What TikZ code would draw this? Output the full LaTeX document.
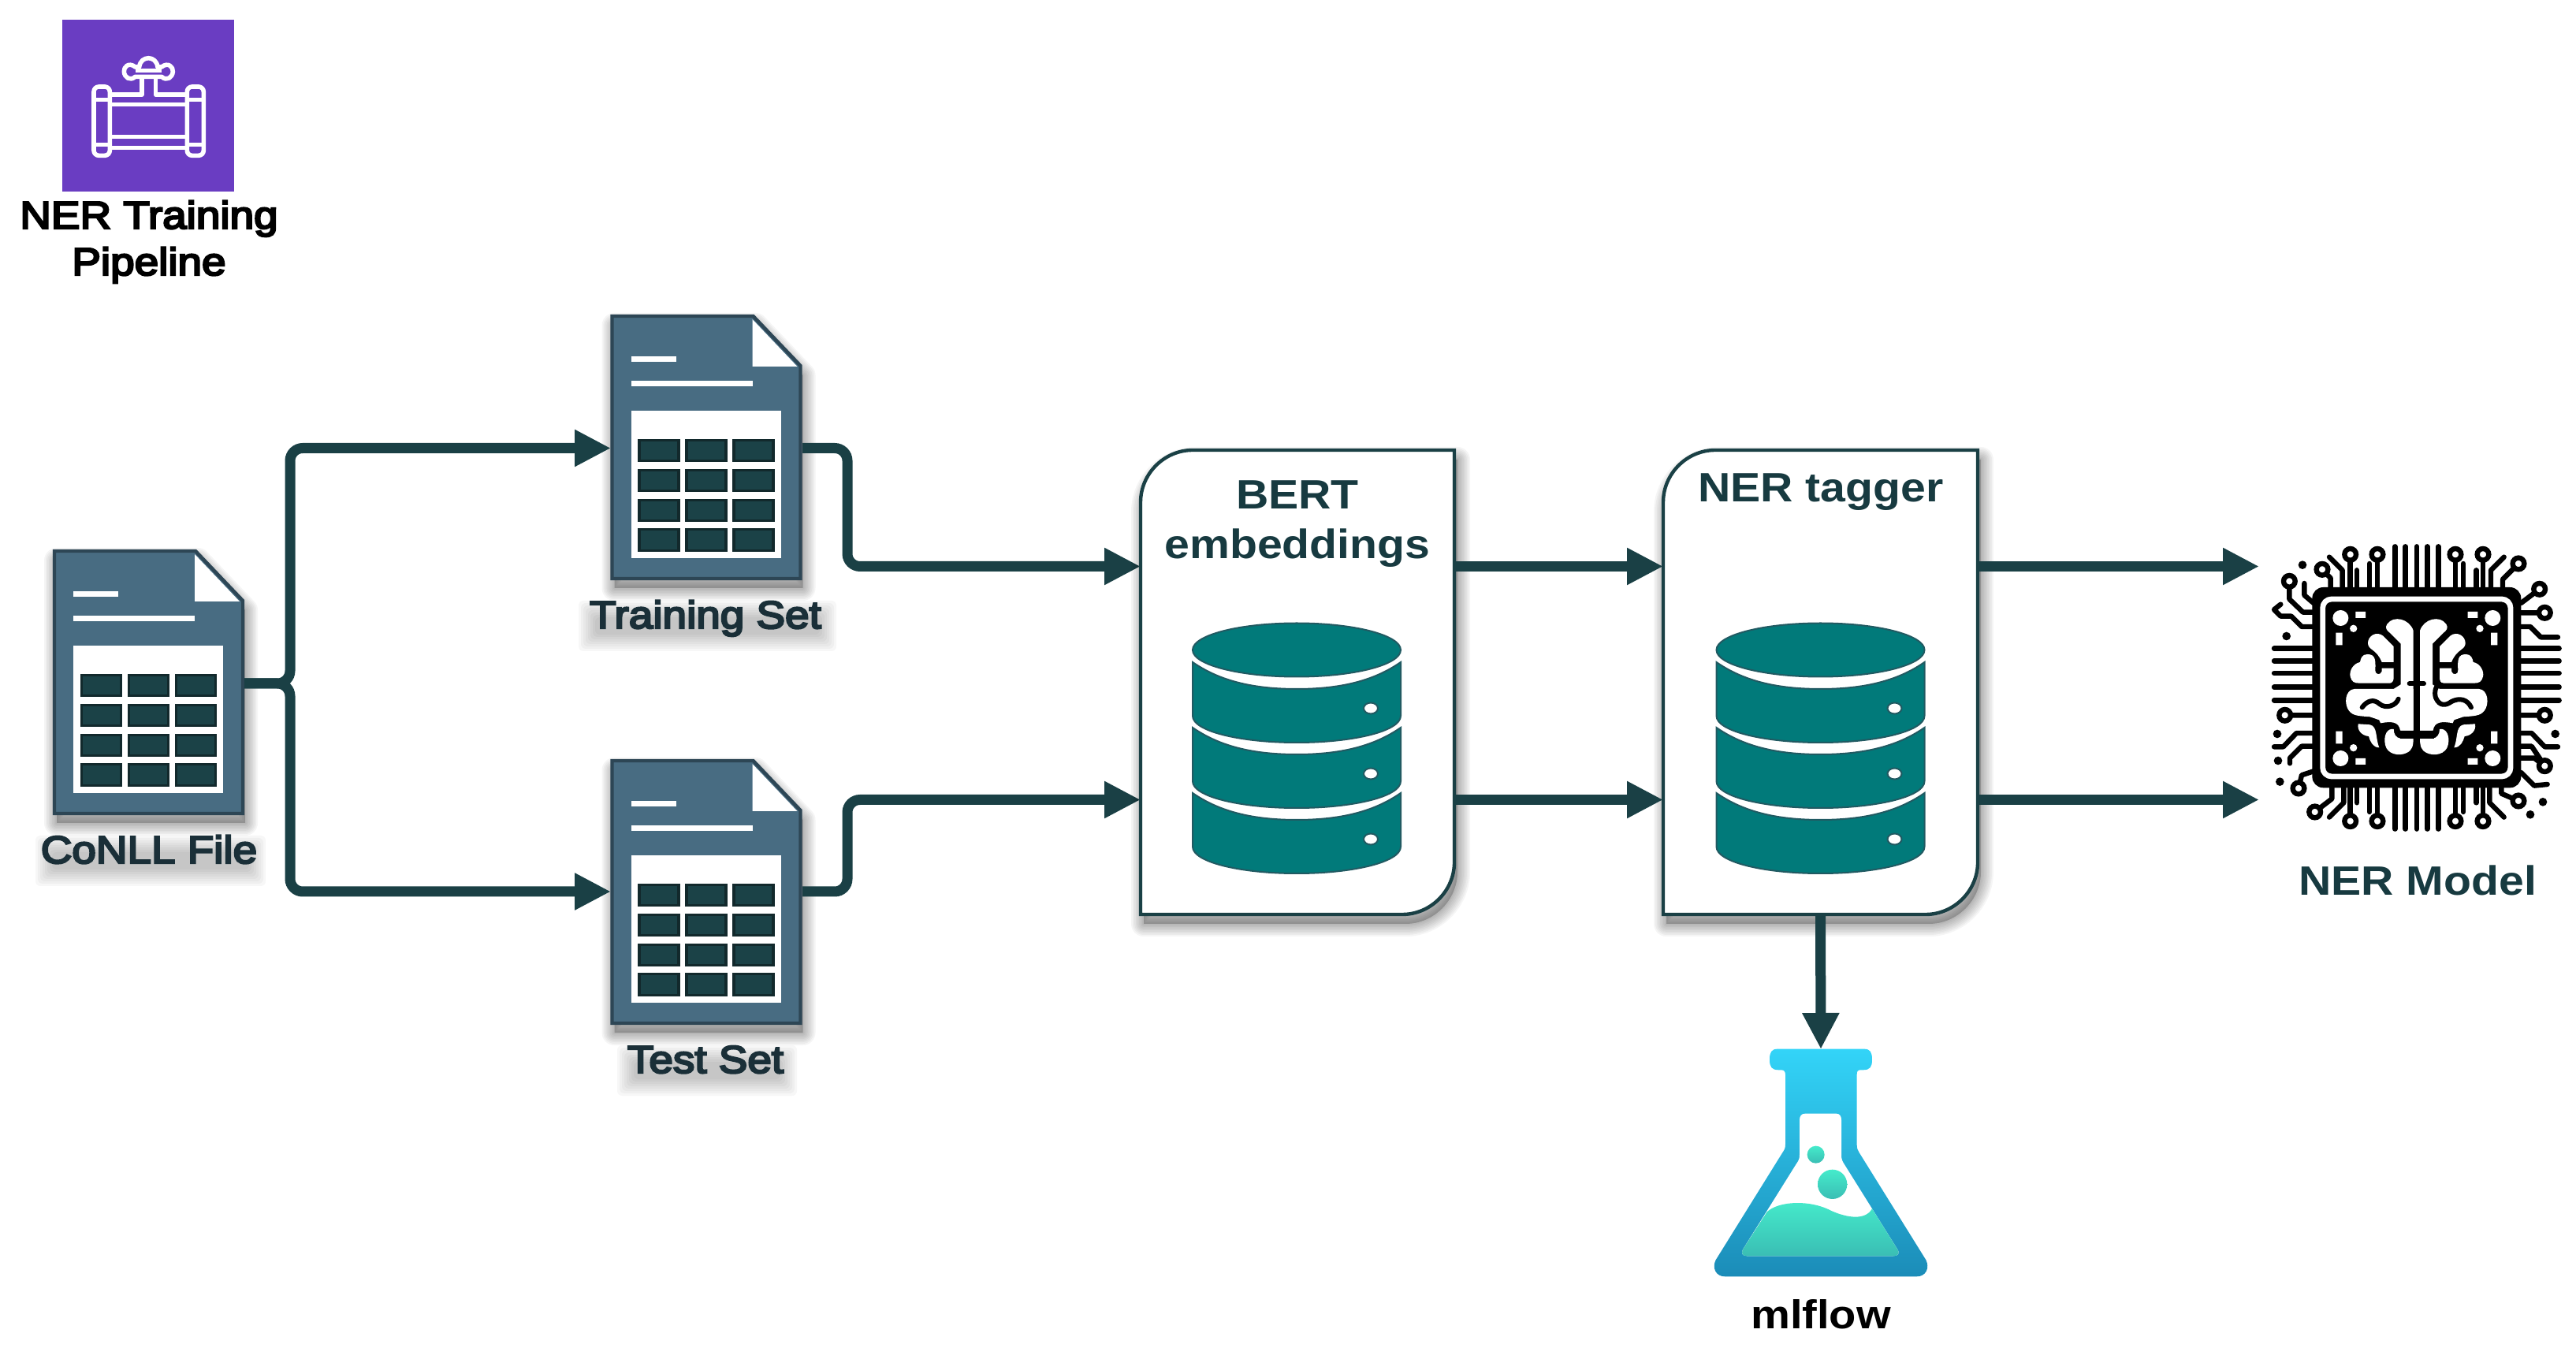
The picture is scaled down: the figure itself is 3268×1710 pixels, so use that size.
\documentclass[tikz,border=0pt]{standalone}
\usepackage{fontspec}
\setmainfont{Liberation Sans}[FakeStretch=1.1]
\newfontfamily\labfont{Liberation Sans}[FakeStretch=1.12,FakeBold=5]
\usetikzlibrary{arrows.meta,calc}
\definecolor{conn}{HTML}{1A4045}
\definecolor{docfill}{HTML}{486C82}
\definecolor{docline}{HTML}{2D4655}
\definecolor{cellfill}{HTML}{1B4247}
\definecolor{cellline}{HTML}{12292C}
\definecolor{dbfill}{HTML}{017A7A}
\definecolor{dbline}{HTML}{215A62}
\definecolor{purple1}{HTML}{6A3DC2}
\definecolor{labdark}{HTML}{1A2F38}
\definecolor{labteal}{HTML}{173A40}
\tikzset{
  conn/.style={draw=conn,line width=3.25pt,rounded corners=4pt},
  tip/.style={-{Triangle[length=11.5pt,width=11pt]}},
  anchorbox/.style={draw=none,inner sep=0pt,outer sep=0pt},
  lab/.style={anchor=base,font=\labfont\fontsize{12.25}{14}\selectfont,inner sep=0pt},
  blab/.style={anchor=base,font=\bfseries\fontsize{13}{15}\selectfont,inner sep=0pt,text=labteal},
  pin/.style={line width=1.6pt,line cap=round,line join=round,draw=black},
  term/.style={line width=1.6pt,draw=black,fill=white},
  wh/.style={fill=white,draw=none},
  brainline/.style={draw=black,line width=1.5pt,line cap=round,line join=round},
  valve/.style={draw=white,line width=1.4pt,line join=round},
}
\newcommand{\softshadow}[1]{%
  \path[fill=black,opacity=.22] #1;
  \foreach \w in {8,7,6,5,4,3,2,1}{\path[draw=black,opacity=.04,line width=\w pt,line join=round] #1;}}
\newcommand{\docicon}[2]{%
  \begin{scope}[shift={(#1,#2)}]
    \begin{scope}[shift={(3,12)}]\softshadow{(2,2)--(181,2)--(241,65)--(241,335)--(2,335)--cycle}\end{scope}
    \path[fill=docfill,draw=docline,line width=1.1pt,line join=miter] (2,2)--(181,2)--(241,65)--(241,335)--(2,335)--cycle;
    \fill[white] (180,6)--(180,66)--(237,66)--cycle;
    \fill[white] (26,53) rectangle (83,60);
    \fill[white] (26,84) rectangle (180,91);
    \fill[white] (26,122) rectangle (216,309);
    \foreach \cx/\cw in {35/53,95/53,155/53}{
      \foreach \cy/\ch in {158/29,196/29,234/29,271/30}{
        \path[fill=cellfill,draw=cellline,line width=.8pt] (\cx+1.5,\cy+1.5) rectangle (\cx+\cw-1.5,\cy+\ch-1.5);
      }}
  \end{scope}}
\newcommand{\dblayer}[2]{% cx, t
  \path[fill=dbfill,draw=dbline,line width=.5pt] (#1-132,#2) .. controls (#1-100,#2+22) and (#1-60,#2+34) .. (#1,#2+34)
    .. controls (#1+60,#2+34) and (#1+100,#2+22) .. (#1+132,#2) -- (#1+132,#2+68)
    .. controls (#1+132,#2+88) and (#1+70,#2+102) .. (#1,#2+102)
    .. controls (#1-70,#2+102) and (#1-132,#2+88) .. (#1-132,#2+68) -- cycle;
  \path[fill=white,draw=dbline,line width=.5pt] (#1+94,#2+58.5) ellipse [x radius=9,y radius=7];}
\newcommand{\dbicon}[1]{%
  \path[fill=dbfill,draw=dbline,line width=.5pt] (#1,824.5) ellipse [x radius=132,y radius=34];
  \dblayer{#1}{840}\dblayer{#1}{923}\dblayer{#1}{1006}}
\newcommand{\boxshape}[2]{% x0 x1
  \begin{scope}[shift={(4,12)}]\softshadow{(#1+66,571) -- (#2,571) -- (#2,1094) .. controls (#2,1130) and (#2-30,1160) .. (#2-66,1160) -- (#1,1160) -- (#1,637) .. controls (#1,601) and (#1+30,571) .. (#1+66,571) -- cycle}\end{scope}
  \path[fill=white,draw=conn,line width=1.1pt] (#1+66,571)--(#2,571)--(#2,1094) .. controls (#2,1130) and (#2-30,1160) .. (#2-66,1160)--(#1,1160)--(#1,637) .. controls (#1,601) and (#1+30,571) .. (#1+66,571)--cycle;}
\newcommand{\textstrip}[3]{% x0 x1 baseline : soft shadow below a label
  \foreach \e in {0,3,...,21}{\path[fill=black,opacity=.03,rounded corners=1.5pt] (#1-\e,#3-14-\e) rectangle (#2+\e,#3+8+\e);}}
\begin{document}
\begin{tikzpicture}[x=.25pt,y=-.25pt]
\useasboundingbox (0,0) rectangle (3268,1710);
% anchor nodes
\node[anchorbox,minimum width=60.75pt,minimum height=84.25pt] (conll) at (188.5,867) {};
\node[anchorbox,minimum width=60.75pt,minimum height=84.25pt] (train) at (896.5,568.5) {};
\node[anchorbox,minimum width=60.75pt,minimum height=84.25pt] (test)  at (896.5,1131) {};
\node[anchorbox,minimum width=99.5pt,minimum height=147.25pt] (bert) at (1646,865.5) {};
\node[anchorbox,minimum width=99.75pt,minimum height=147.25pt] (tagger) at (2309.5,865.5) {};
\node[anchorbox,minimum width=79pt,minimum height=87pt] (model) at (3066,872) {};
\node[anchorbox,minimum width=50pt,minimum height=72pt] (flask) at (2310,1475) {};
\node[anchorbox,minimum width=54.5pt,minimum height=54.5pt] (pipeline) at (188,134) {};
% documents
\docicon{67}{697}
\docicon{774.5}{399}
\docicon{774.5}{963}
% connectors
\draw[conn,tip] (conll.east) -- (368,867) -- (368,568.5) -- (train.west);
\draw[conn,tip] (conll.east) -- (368,867) -- (368,1131) -- (test.west);
\draw[conn,tip] (train.east) -- (1075,568.5) -- (1075,718.5) -- ([yshift=36.75pt]bert.west);
\draw[conn,tip] (test.east) -- (1075,1131) -- (1075,1014.5) -- ([yshift=-37.25pt]bert.west);
% boxes
\boxshape{1447}{1845}
\boxshape{2110}{2509}
\draw[conn,tip] ([yshift=36.75pt]bert.east) -- ([yshift=36.75pt]tagger.west);
\draw[conn,tip] ([yshift=-37.25pt]bert.east) -- ([yshift=-37.25pt]tagger.west);
\draw[conn,tip] ([yshift=36.75pt]tagger.east) -- (2866,718.5);
\draw[conn,tip] ([yshift=-37.25pt]tagger.east) -- (2866,1014.5);
\draw[conn,tip] (tagger.south) -- (flask.north);
\dbicon{1645}
\dbicon{2309.5}
% pipeline icon
\fill[purple1] (79,25) rectangle (297,243);
\begin{scope}[x=.25pt/3,y=-.25pt/3]
  \draw[valve,rounded corners=1.6pt] (357,330) rectangle (418,592);
  \draw[valve,rounded corners=1.6pt] (712,330) rectangle (775,592);
  \draw[valve] (357,380)--(418,380) (712,380)--(775,380) (357,550)--(418,550) (712,550)--(775,550);
  \draw[valve] (418,360)--(540,360)--(540,300) (592,300)--(592,360)--(712,360);
  \draw[valve] (418,397)--(712,397) (418,520)--(712,520) (418,562)--(712,562);
  \draw[valve] (515,255) .. controls (490,235) and (470,255) .. (472,273) .. controls (474,295) and (495,310) .. (515,292) -- (615,292) .. controls (635,310) and (656,295) .. (658,273) .. controls (660,255) and (640,235) .. (615,255) -- (600,255) .. controls (595,210) and (535,210) .. (530,255) -- cycle;
  \draw[valve] (515,268) -- (615,268);
  \path[fill=purple1] (490,273) circle [radius=5] (640,273) circle [radius=5];
\end{scope}
% chip icon
\begin{scope}[shift={(2840,660)},x=.25pt/3,y=-.25pt/3]
  \foreach \x in {595,635,678,718,760}{\draw[pin] (\x,100)--(\x,260) (\x,1018)--(\x,1175);}
  \foreach \y in {488,535,582,635,685}{\draw[pin] (135,\y)--(280,\y) (1075,\y)--(1220,\y);}
  \foreach \x in {425,528,825,930}{\draw[pin] (\x,130)--(\x,260) (\x,1018)--(\x,1145);}
  \draw[pin] (450,190)--(450,260) (498,165)--(498,260) (855,165)--(855,260) (905,190)--(905,260);
  \draw[pin] (450,1018)--(450,1075) (498,1018)--(498,1110) (855,1018)--(855,1110) (905,1018)--(905,1075);
  \draw[pin] (345,140)--(395,190)--(395,260) (1010,140)--(960,190)--(960,260);
  \draw[pin] (1065,165)--(1005,225)--(1005,260) (318,187)--(350,220)--(350,260);
  \draw[pin] (193,232)--(193,300)--(245,350)--(285,350) (250,240)--(250,285)--(285,315);
  \draw[pin] (160,320)--(135,340)--(160,365)--(200,365)--(240,405)--(285,405);
  \draw[pin] (176,742)--(285,742) (135,862)--(170,862)--(220,810)--(285,810);
  \draw[pin] (195,925)--(195,905)--(240,860)--(285,860) (228,1020)--(240,970)--(285,955);
  \draw[pin] (290,1110)--(355,1060)--(355,1018) (345,1130)--(400,1075)--(400,1018);
  \draw[pin] (1010,1130)--(955,1075)--(955,1018) (1065,1068)--(1000,1040)--(1000,1018);
  \draw[pin] (1145,262)--(1075,315) (1165,352)--(1075,352) (1215,445)--(1150,445)--(1110,405)--(1075,405);
  \draw[pin] (1165,742)--(1075,742) (1215,862)--(1165,862)--(1115,810)--(1075,810);
  \draw[pin] (1165,935)--(1115,860)--(1075,860) (1165,935)--(1125,905)--(1075,905);
  \draw[pin] (1175,1005)--(1125,1010)--(1100,985)--(1075,960);
  \foreach \x/\y in {425/130,528/130,825/130,930/130,318/187,1065/165,193/232,1145/262,1165/352,176/742,1165/742,1165/935,228/1020,290/1110,425/1145,528/1145,825/1145,930/1145,1065/1068}{
    \path[term] (\x,\y) circle [radius=22];}
  \foreach \x/\y in {243/170,182/441,147/813,150/915,157/995,1205/813,1110/1120,1158/1072}{
    \fill (\x,\y) circle [radius=16];}
  \fill[rounded corners=3.5pt] (280,255) rectangle (1075,1018);
  \draw[white,line width=1.7pt,rounded corners=2.8pt] (320,300) rectangle (1035,975);
  % corner marks and brain, mirrored
  \foreach \sx/\sy in {1/1,-1/1,1/-1,-1/-1}{
  \begin{scope}[shift={(677.5,639)},xscale=\sx,yscale=\sy,shift={(-677.5,-639)}]
    \fill[white] (388,372) circle [radius=30] (437,412) circle [radius=14];
    \fill[white] (445,348) rectangle (483,372) (370,428) rectangle (395,475);
  \end{scope}}
  \foreach \sx in {1,-1}{
  \begin{scope}[shift={(677.5,0)},xscale=\sx,shift={(-677.5,0)}]
    \fill[white] (665,420) .. controls (650,375) and (590,360) .. (565,395) .. controls (555,410) and (565,420) .. (575,428) -- (617,470) -- (617,625) -- (590,642) -- (617,800) -- (665,800) -- cycle;
    \fill[white] (590,480) -- (550,440) .. controls (525,420) and (490,440) .. (492,470) .. controls (495,495) and (525,490) .. (545,540) -- (590,540) -- cycle;
    \fill[white] (590,563) -- (545,563) -- (545,575) .. controls (540,590) and (520,590) .. (520,570) .. controls (522,530) and (520,510) .. (490,510) .. controls (470,510) and (465,525) .. (462,540) .. controls (435,545) and (420,575) .. (425,595) .. controls (430,615) and (440,620) .. (460,620) -- (575,620) .. controls (585,620) and (590,610) .. (590,600) -- cycle;
    \fill[white] (665,642) -- (440,642) .. controls (405,645) and (400,700) .. (420,725) .. controls (435,745) and (460,745) .. (500,748) -- (535,760) -- (540,772) .. controls (580,765) and (610,765) .. (615,800) -- (665,800) -- cycle;
    \fill[white] (455,775) -- (500,778) .. controls (530,785) and (520,830) .. (535,865) .. controls (510,865) and (500,840) .. (495,822) .. controls (470,820) and (450,800) .. (455,775) -- cycle;
    \fill[white] (590,795) .. controls (565,790) and (550,820) .. (558,855) .. controls (565,890) and (610,900) .. (640,885) .. controls (660,875) and (665,860) .. (665,830) -- (615,830) .. controls (600,828) and (590,815) .. (590,795) -- cycle;
  \end{scope}}
  \draw[brainline] (470,712) .. controls (490,685) and (515,680) .. (535,698) .. controls (560,720) and (600,705) .. (608,680);
  \draw[brainline] (468,762) -- (505,762);
  \draw[brainline] (650,622) -- (705,622);
  \draw[brainline] (775,628) .. controls (745,620) and (745,660) .. (750,675) .. controls (765,710) and (790,705) .. (810,690) .. controls (840,675) and (870,680) .. (885,712);
  \draw[brainline] (850,762) -- (890,762);
  \draw[brainline] (750,490) -- (750,582);
  \draw[brainline] (677.5,385)--(677.5,880);
  \fill[black] (615,800) rectangle (745,830);
\end{scope}
% flask
\begin{scope}[shift={(2130,1300)},x=.25pt/3,y=-.25pt/3]
  \shade[top color={rgb,255:red,51;green,212;blue,248},bottom color={rgb,255:red,27;green,140;blue,184}]
    (375,92) -- (705,92) .. controls (728,92) and (735,105) .. (735,132) .. controls (735,160) and (728,172) .. (700,172) -- (690,172) .. controls (680,172) and (677,178) .. (677,190) -- (677,455) .. controls (677,470) and (680,478) .. (685,485) -- (940,895) .. controls (955,925) and (940,958) .. (905,958) -- (175,958) .. controls (140,958) and (125,925) .. (140,895) -- (395,485) .. controls (402,475) and (405,468) .. (405,455) -- (405,190) .. controls (405,178) and (400,172) .. (390,172) -- (380,172) .. controls (352,172) and (345,160) .. (345,132) .. controls (345,105) and (352,92) .. (375,92) -- cycle;
  \fill[white] (480,338) -- (598,338) .. controls (612,338) and (618,348) .. (618,362) -- (618,495) .. controls (618,512) and (622,520) .. (630,532) -- (830,852) .. controls (842,870) and (835,880) .. (815,880) -- (260,880) .. controls (240,880) and (235,870) .. (245,852) -- (445,532) .. controls (455,518) and (459,510) .. (459,495) -- (459,362) .. controls (459,348) and (466,338) .. (480,338) -- cycle;
  \shade[top color={rgb,255:red,69;green,235;blue,203},bottom color={rgb,255:red,58;green,190;blue,180}]
    (335,712) .. controls (380,670) and (500,665) .. (580,708) .. controls (640,735) and (710,745) .. (735,700) -- (830,852) .. controls (842,870) and (835,880) .. (815,880) -- (260,880) .. controls (240,880) and (235,870) .. (245,852) -- cycle;
  \shade[top color={rgb,255:red,69;green,235;blue,203},bottom color={rgb,255:red,58;green,190;blue,180}] (521,494) circle [radius=33];
  \shade[top color={rgb,255:red,69;green,235;blue,203},bottom color={rgb,255:red,58;green,190;blue,180}] (584,607) circle [radius=56];
\end{scope}
% label shadows
\textstrip{66}{316}{1095}
\textstrip{755}{1040}{797}
\textstrip{804}{990}{1361}
% labels
\node[lab,text=black] (l1) at (189,290) {NER Training};
\node[lab,text=black] (l2) at (189,349) {Pipeline};
\node[lab,text=labdark] (l3) at (189,1095) {CoNLL File};
\node[lab,text=labdark] (l4) at (895,797) {Training Set};
\node[lab,text=labdark] (l5) at (895,1361) {Test Set};
\node[blab] (l6) at (1646,646) {BERT};
\node[blab] (l7) at (1646,709) {embeddings};
\node[blab] (l8) at (2310,637) {NER tagger};
\node[blab] (l9) at (3067,1135) {NER Model};
\node[lab,text=black,font=\bfseries\fontsize{12.75}{14}\selectfont] (l10) at (2310,1685) {mlflow};
\end{tikzpicture}
\end{document}
